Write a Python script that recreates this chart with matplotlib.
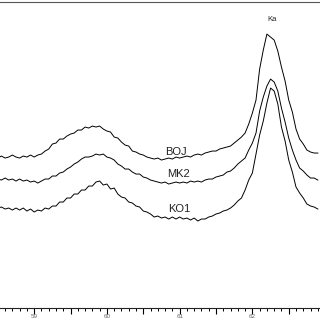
import matplotlib
matplotlib.use("Agg")
import matplotlib.pyplot as plt
from matplotlib.ticker import MultipleLocator, FuncFormatter

plt.rcParams['font.family'] = ['Liberation Sans', 'DejaVu Sans']

# 2-theta grid (deg)
two_theta = [round(58.50 + 0.05 * i, 2) for i in range(89)]

boj = [150, 152, 150, 151, 153, 151, 150, 152, 151, 153,
       151, 153, 154, 157, 159, 164, 165, 169, 169, 172,
       174, 175, 178, 178, 181, 180, 182, 181, 182, 179,
       177, 176, 171, 170, 166, 163, 162, 157, 156, 154,
       153, 151, 150, 149, 150, 148, 149, 150, 149, 151,
       150, 151, 152, 151, 153, 154, 153, 155, 156, 157,
       157, 159, 160, 161, 162, 165, 168, 171, 175, 184,
       195, 208, 239, 258, 274, 271, 268, 257, 241, 227,
       208, 196, 179, 169, 164, 158, 156, 155, 155]

mk2 = [129, 128, 130, 128, 129, 127, 129, 127, 128, 126,
       127, 125, 127, 129, 129, 132, 132, 135, 136, 139,
       141, 144, 146, 149, 151, 151, 152, 154, 153, 154,
       151, 150, 148, 144, 142, 139, 139, 136, 134, 134,
       131, 130, 128, 127, 126, 125, 126, 124, 125, 126,
       125, 126, 125, 127, 126, 127, 126, 128, 129, 129,
       131, 132, 133, 136, 137, 140, 144, 147, 150, 158,
       165, 175, 197, 211, 222, 229, 226, 217, 200, 186,
       170, 158, 148, 140, 137, 133, 130, 130, 128]

ko1 = [100, 101, 99, 100, 98, 100, 98, 100, 97, 99,
       96, 98, 97, 100, 99, 102, 102, 106, 106, 110,
       110, 114, 114, 118, 118, 122, 122, 126, 127, 123,
       124, 119, 120, 114, 111, 110, 106, 105, 102, 101,
       97, 96, 94, 91, 92, 90, 91, 89, 91, 89,
       91, 89, 90, 88, 90, 87, 89, 89, 91, 92,
       94, 95, 97, 98, 100, 103, 107, 110, 118, 128,
       135, 154, 173, 187, 205, 220, 217, 204, 181, 167,
       148, 136, 121, 115, 110, 104, 102, 101, 99]

samples = ["BOJ", "MK2", "KO1"]
label_pos = [(60.955, 156), (60.98, 134), (60.995, 99)]

fig = plt.figure(figsize=(3.2, 3.2), dpi=100)
ax = fig.add_axes([0, 0.0375, 1, 0.956])

for series in [boj, mk2, ko1]:
    ax.plot(two_theta, series, color="black", lw=0.7)

for name, (x, y) in zip(samples, label_pos):
    ax.text(x, y, name, fontsize=8, ha="center", va="center", color="#222222")
ax.text(62.27, 289, "Ka", fontsize=5.5, ha="center", va="center", color="#222222")

ax.set_xlim(58.53, 62.93)
ax.set_ylim(0, 306)
ax.set_yticks([])
ax.spines["left"].set_visible(False)
ax.spines["right"].set_visible(False)
ax.spines["top"].set_color("#555555")
ax.spines["bottom"].set_color("#222222")

# long ticks every 0.5, labels only on whole degrees
ax.xaxis.set_major_locator(MultipleLocator(0.5))
ax.xaxis.set_major_formatter(FuncFormatter(lambda v, p: "%d" % round(v) if abs(v - round(v)) < 1e-6 else ""))
ax.xaxis.set_minor_locator(MultipleLocator(0.1))
ax.tick_params(axis="x", which="major", direction="out", length=4, width=0.8,
               labelsize=4.5, pad=0.5, labelcolor="#666666")
ax.tick_params(axis="x", which="minor", direction="out", length=2.5, width=0.7)

fig.savefig("out.png", dpi=100)
